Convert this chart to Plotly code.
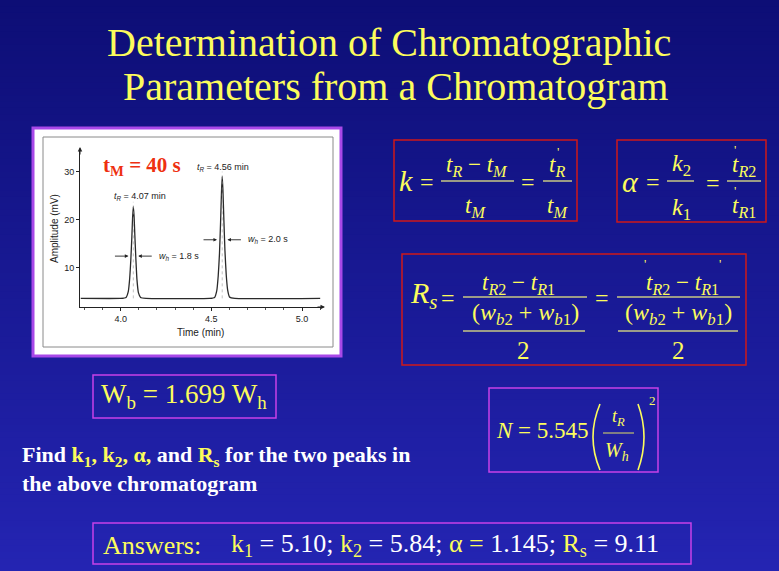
"""Slide: determination of chromatographic parameters from a chromatogram."""

import plotly.graph_objects as go

# ---- data ----
time_min = [3.78, 4.000, 4.030, 4.042, 4.050, 4.056, 4.062, 4.066, 4.070, 4.074,
            4.078, 4.084, 4.090, 4.098, 4.110, 4.140,
            4.490, 4.518, 4.530, 4.538, 4.545, 4.551, 4.556, 4.560, 4.564,
            4.569, 4.575, 4.582, 4.590, 4.600, 4.630, 5.10]
amplitude_mv = [3.6, 3.6, 3.8, 5.0, 7.8, 11.5, 16.5, 20.5, 22.7, 20.8,
                17.0, 11.8, 7.5, 4.8, 3.8, 3.6,
                3.6, 3.8, 5.2, 8.3, 13.0, 19.5, 25.8, 29.0, 26.0,
                20.0, 13.5, 8.5, 5.3, 3.9, 3.6, 3.6]
retention_times = [4.07, 4.56]        # min
peak_tops = [22.7, 29.0]              # mV
half_widths_s = [1.8, 2.0]            # s
half_height_mv = [12.4, 15.8]
dead_time_s = 40
x_ticks = [4.0, 4.5, 5.0]
y_ticks = [10, 20, 30]
wb_factor = 1.699
n_factor = 5.545
answers = {"k1": 5.10, "k2": 5.84, "alpha": 1.145, "Rs": 9.11}

W, H = 779, 571
YEL = "#fcfc5c"
SERIF = "Times New Roman"
SANS = "Arial"


def px(x):
    return x / W


def py(y):
    return 1 - y / H


fig = go.Figure()

# chromatogram trace
fig.add_trace(go.Scatter(
    x=time_min, y=amplitude_mv, mode="lines",
    line=dict(color="#2a2a2a", width=1.3, shape="spline", smoothing=0.4),
    hoverinfo="skip", showlegend=False,
))
# faint retention-time markers
for tr, top in zip(retention_times, peak_tops):
    fig.add_trace(go.Scatter(
        x=[tr, tr], y=[3.6, top + 1.0], mode="lines",
        line=dict(color="#9a9a9a", width=0.6, dash="dot"),
        hoverinfo="skip", showlegend=False,
    ))

shapes = []
# background gradient
n = 90
top_rgb, bot_rgb = (13, 14, 118), (36, 36, 178)
for i in range(n):
    f = i / (n - 1)
    c = tuple(round(b + (t - b) * f) for b, t in zip(bot_rgb, top_rgb))
    shapes.append(dict(type="rect", xref="paper", yref="paper", x0=0, x1=1,
                       y0=i / n, y1=(i + 1) / n + 0.002, line_width=0,
                       fillcolor="rgb(%d,%d,%d)" % c, layer="below"))

# inset frame
shapes.append(dict(type="rect", xref="paper", yref="paper",
                   x0=px(33), x1=px(341), y0=py(356), y1=py(128),
                   fillcolor="white", line=dict(color="#a848e8", width=3), layer="below"))
shapes.append(dict(type="rect", xref="paper", yref="paper",
                   x0=px(43), x1=px(333), y0=py(347), y1=py(137),
                   line=dict(color="#8a8a8a", width=1), layer="below"))


def box(x0, y0, x1, y1, color):
    shapes.append(dict(type="rect", xref="paper", yref="paper",
                       x0=px(x0), x1=px(x1), y0=py(y1), y1=py(y0),
                       line=dict(color=color, width=1.5)))


def bar(x0, x1, y, color="#c8c884"):
    shapes.append(dict(type="line", xref="paper", yref="paper",
                       x0=px(x0), x1=px(x1), y0=py(y), y1=py(y),
                       line=dict(color=color, width=1.5)))


def paren(xe, xm, y0, y1):
    # thin curved bracket drawn as a quadratic curve
    path = "M %f,%f Q %f,%f %f,%f" % (px(xe), py(y0), px(xm), py((y0 + y1) / 2),
                                       px(xe), py(y1))
    shapes.append(dict(type="path", xref="paper", yref="paper", path=path,
                       line=dict(color=YEL, width=1.6)))


RED, PURPLE = "#d01818", "#c840e8"
box(394, 140, 577, 221, RED)
box(617, 140, 766, 222, RED)
box(402, 254, 746, 365, RED)
box(93, 375, 276, 418, PURPLE)
box(489, 388, 658, 472, PURPLE)
box(93, 523, 691, 564, PURPLE)

bar(441, 514, 181); bar(543, 572, 181)
bar(667, 694, 181); bar(727, 761, 181)
bar(463, 587, 297); bar(463, 585, 331)
bar(617, 740, 297); bar(618, 738, 331)
bar(603, 634, 433, "#a0a078")
paren(600, 586, 404, 470)
paren(638, 650, 404, 470)

ann = []


def txt(x, y, text, size, color=YEL, family=SERIF, xanchor="center", **kw):
    ann.append(dict(xref="paper", yref="paper", x=px(x), y=py(y), text=text,
                    showarrow=False, xanchor=xanchor, yanchor="middle",
                    font=dict(family=family, size=size, color=color), **kw))


def it(s):
    return "<i>%s</i>" % s


def sub(s):
    return "<sub>%s</sub>" % s


# title
txt(389, 42, "Determination of Chromatographic", 40)
txt(395, 87, "Parameters from a Chromatogram", 40)

# k box
txt(406, 180, it("k"), 30)
txt(427, 182, "=", 24)
txt(477, 166, it("t") + sub(it("R")) + " − " + it("t") + sub(it("M")), 23)
txt(476, 207, it("t") + sub(it("M")), 23)
txt(528, 182, "=", 24)
txt(557, 166, it("t") + sub(it("R")), 23)
txt(558, 151, "'", 13)
txt(557, 207, it("t") + sub(it("M")), 23)

# alpha box
txt(630, 181, it("α"), 30)
txt(653, 182, "=", 24)
txt(681, 165, it("k") + sub("2"), 24)
txt(681, 209, it("k") + sub("1"), 24)
txt(713, 183, "=", 24)
txt(744, 166, it("t") + sub(it("R") + "2"), 23)
txt(735, 149, "'", 13)
txt(744, 207, it("t") + sub(it("R") + "1"), 23)
txt(735, 190, "'", 13)

# resolution box
txt(424, 295, it("R") + sub(it("s")), 30)
txt(448, 298, "=", 24)
txt(518, 284, it("t") + sub(it("R") + "2") + " − " + it("t") + sub(it("R") + "1"), 23)
txt(525, 314, "(" + it("w") + sub(it("b") + "2") + " + " + it("w") + sub(it("b") + "1") + ")", 24)
txt(523, 350, "2", 25)
txt(602, 298, "=", 24)
txt(682, 284, it("t") + sub(it("R") + "2") + " − " + it("t") + sub(it("R") + "1"), 23)
txt(645, 263, "'", 13)
txt(720, 263, "'", 13)
txt(678, 314, "(" + it("w") + sub(it("b") + "2") + " + " + it("w") + sub(it("b") + "1") + ")", 24)
txt(678, 350, "2", 25)

# plate number box
txt(494, 430, it("N") + " = %.3f" % n_factor, 23, xanchor="left")
txt(618, 417, it("t") + sub(it("R")), 18)
txt(617, 451, it("W") + sub(it("h")), 20)
txt(652, 400, "2", 13)

# base width relation
txt(184, 396, "W" + sub("b") + " = %.3f W" % wb_factor + sub("h"), 27)

# question
Y = "<span style='color:%s'>%s</span>"
line1 = ("<b>Find " + Y % (YEL, "k" + sub("1") + ",") + " " + Y % (YEL, "k" + sub("2") + ",")
         + " " + Y % (YEL, "α,") + " and " + Y % (YEL, "R" + sub("s"))
         + " for the two peaks in</b>")
txt(20, 456, line1, 22, color="white", xanchor="left")
txt(20, 483, "<b>the above chromatogram</b>", 22, color="white", xanchor="left")

# answers
txt(101, 545, "Answers:", 26, xanchor="left")
ans = (Y % (YEL, "k" + sub("1")) + " = %.2f; " % answers["k1"]
       + Y % (YEL, "k" + sub("2")) + " = %.2f; " % answers["k2"]
       + Y % (YEL, "α =") + " %.3f; " % answers["alpha"]
       + Y % (YEL, "R" + sub("s")) + " = %.2f" % answers["Rs"])
txt(229, 545, ans, 26, color="white", xanchor="left")

# chromatogram annotations
DK = "#222222"
txt(142, 166, "<b>t" + sub("M") + " = %d s</b>" % dead_time_s, 21, color="#ee3010")
txt(55, 228, "Amplitude (mV)", 10, color=DK, family=SANS, textangle=-90)
txt(200, 332, "Time (min)", 10, color=DK, family=SANS)
label_xy = [(4.106, 24.8), (4.567, 30.8)]
for (lx, ly), tr in zip(label_xy, retention_times):
    ann.append(dict(x=lx, y=ly, xref="x", yref="y", showarrow=False,
                    text=it("t") + sub(it("R")) + " = %.2f min" % tr,
                    font=dict(family=SANS, size=9, color=DK)))
for tr, hh, wh in zip(retention_times, half_height_mv, half_widths_s):
    hw = wh / 60 / 2 + 0.012
    for side in (-1, 1):
        ann.append(dict(x=tr + side * hw, y=hh, xref="x", yref="y", text="",
                        showarrow=True, ax=side * 15, ay=0, arrowhead=2,
                        arrowsize=0.8, arrowwidth=0.9, arrowcolor=DK))
    ann.append(dict(x=tr + hw + 0.105, y=hh, xref="x", yref="y", showarrow=False,
                    xanchor="left", text=it("w") + sub(it("h")) + " = %.1f s" % wh,
                    font=dict(family=SANS, size=9, color=DK)))
# axis arrowheads
ann.append(dict(xref="paper", yref="paper", x=px(80), y=py(147), ax=0, ay=9, text="",
                showarrow=True, arrowhead=2, arrowsize=0.9, arrowwidth=1, arrowcolor=DK))
ann.append(dict(xref="paper", yref="paper", x=px(325), y=py(307), ax=-9, ay=0, text="",
                showarrow=True, arrowhead=2, arrowsize=0.9, arrowwidth=1, arrowcolor=DK))

fig.update_layout(
    width=W, height=H,
    margin=dict(l=0, r=0, t=0, b=0, pad=0),
    paper_bgcolor="#181890", plot_bgcolor="white",
    shapes=shapes, annotations=ann, showlegend=False,
    xaxis=dict(domain=[px(80), px(322)], range=[3.776, 5.11],
               tickvals=x_ticks, ticktext=["%.1f" % v for v in x_ticks],
               showline=True, linecolor=DK, linewidth=1, showgrid=False, zeroline=False,
               ticks="outside", ticklen=3, tickcolor=DK,
               minor=dict(dtick=0.1, ticks="outside", ticklen=2, tickcolor="#555"),
               tickfont=dict(family=SANS, size=9, color=DK)),
    yaxis=dict(domain=[py(307), py(150)], range=[1.8, 34.5],
               tickvals=y_ticks, showline=True, linecolor=DK, linewidth=1,
               showgrid=False, zeroline=False, ticks="outside", ticklen=3, tickcolor=DK,
               tickfont=dict(family=SANS, size=9, color=DK)),
)

# page body has a default margin; drop it so the slide fills the window
fig.write_html("out.html", config={"displayModeBar": False},
               post_script="document.body.style.margin='0';")
